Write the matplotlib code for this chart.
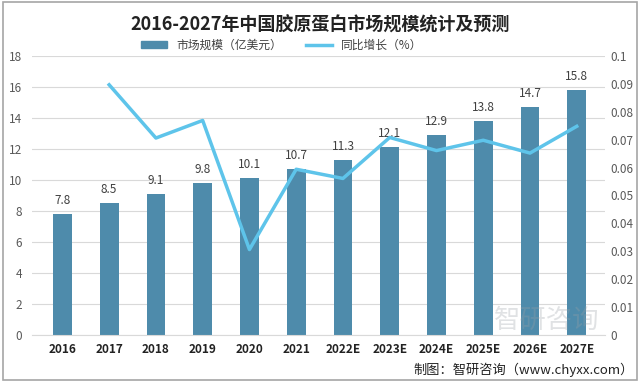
import matplotlib.pyplot as plt
from matplotlib.patches import Rectangle, Patch
from matplotlib.lines import Line2D

plt.rcParams['font.family'] = ['Noto Sans CJK SC', 'DejaVu Sans']

years = ['2016', '2017', '2018', '2019', '2020', '2021',
         '2022E', '2023E', '2024E', '2025E', '2026E', '2027E']
market = [7.8, 8.5, 9.1, 9.8, 10.1, 10.7, 11.3, 12.1, 12.9, 13.8, 14.7, 15.8]
# growth for 2017..2027E
growth = [0.0897, 0.0706, 0.0769, 0.0306, 0.0594, 0.0561,
          0.0708, 0.0661, 0.0698, 0.0652, 0.0748]

BAR_COLOR = '#4e8bab'
LINE_COLOR = '#5ec4ea'

fig = plt.figure(figsize=(6.4, 3.84), dpi=100)
ax = fig.add_axes([0.05, 0.128, 0.895, 0.726])
ax2 = ax.twinx()

x = list(range(len(years)))
ax.bar(x, market, width=0.4, color=BAR_COLOR, zorder=2)
for xi, v in zip(x, market):
    ax.text(xi, v + 0.45, f'{v}', ha='center', va='bottom', fontsize=8.5, color='#404040')

ax2.plot(x[1:], growth, color=LINE_COLOR, lw=2.5, zorder=3)

ax.set_xlim(-0.65, 11.6)
ax.set_ylim(0, 18)
ax.set_yticks(range(0, 19, 2))
ax2.set_ylim(0, 0.1)
ax2.set_yticks([i / 100 for i in range(0, 11)])
ax2.set_yticklabels(['0'] + [f'{i/100:g}' for i in range(1, 11)])

ax.set_xticks(x)
ax.set_xticklabels(years, fontsize=8.5, fontweight='bold', color='#222222')
ax.tick_params(axis='y', labelsize=8.5, labelcolor='#595959', length=0, pad=7)
ax2.tick_params(axis='y', labelsize=8.5, labelcolor='#595959', length=0, pad=4)
ax.tick_params(axis='x', length=0, pad=6)

ax.grid(axis='y', color='#d9d9d9', lw=0.8, zorder=0)
ax.set_axisbelow(True)
for a in (ax, ax2):
    for s in a.spines.values():
        s.set_visible(False)
ax.spines['bottom'].set_visible(True)
ax.spines['bottom'].set_color('#d9d9d9')

ax2.set_zorder(ax.get_zorder() + 1)
ax.patch.set_visible(False)

# legend
handles = [Patch(color=BAR_COLOR), Line2D([0], [0], color=LINE_COLOR, lw=2.5)]
fig.legend(handles, ['市场规模（亿美元）', '同比增长（%）'], loc='center',
           bbox_to_anchor=(0.44, 0.882), ncol=2, frameon=False, fontsize=8.5,
           handlelength=2.2, handleheight=0.6, columnspacing=2.0,
           labelcolor='#404040')

fig.text(0.5, 0.935, '2016-2027年中国胶原蛋白市场规模统计及预测', ha='center', va='center',
         fontsize=13, fontweight='bold', color='#222222')

# watermark
fig.text(0.855, 0.165, '智研咨询', ha='center', va='center', fontsize=19,
         color='#9aa0a6', alpha=0.3)

fig.text(0.99, 0.038, '制图：智研咨询（www.chyxx.com）', ha='right', va='center',
         fontsize=9.5, color='#222222')

fig.patches.append(Rectangle((0.004, 0.01), 0.992, 0.985, transform=fig.transFigure,
                             fill=False, edgecolor='#a6a6a6', lw=1.2))

fig.savefig('out.png', dpi=100)
